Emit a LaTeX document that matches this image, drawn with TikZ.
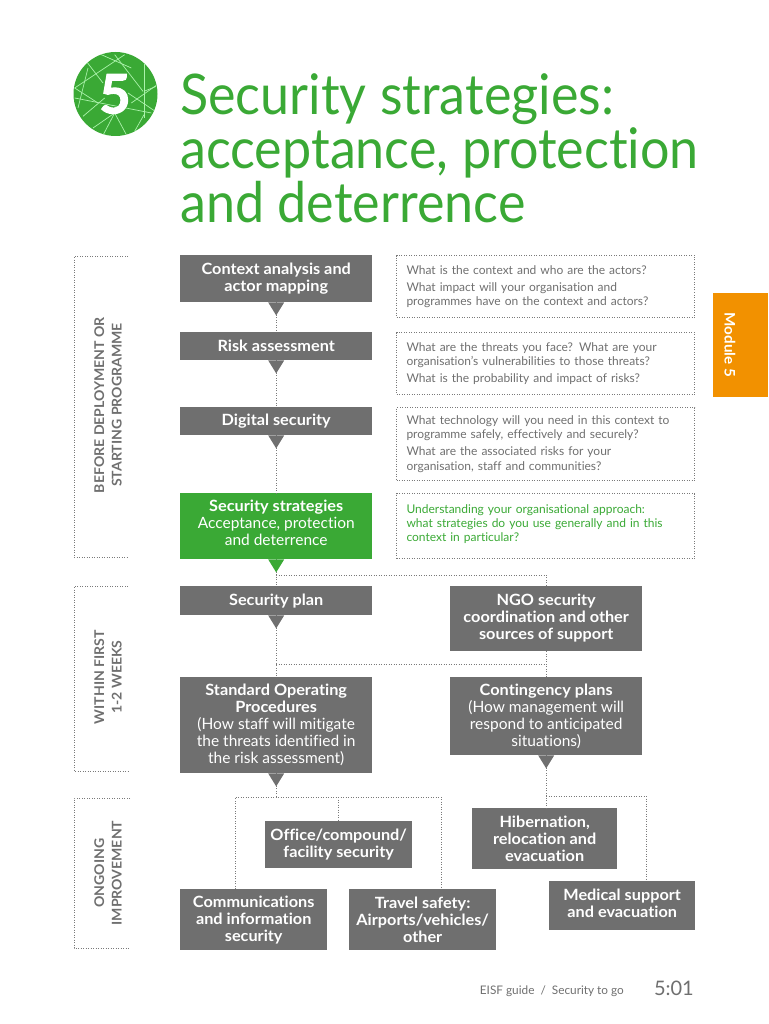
\documentclass[tikz,border=0pt]{standalone}
\usepackage{fontspec}
\setmainfont[Ligatures=NoCommon, BoldFeatures={FakeStretch=1.05}]{Lato}
\newfontfamily\titlefont[Ligatures=NoCommon, FakeStretch=0.93]{Lato}
\newfontfamily\badgefont[BoldFont=Lato Bold, BoldFeatures={FakeBold=2}]{Lato}
\usepackage{xcolor}
\usetikzlibrary{calc}
\definecolor{boxgrey}{HTML}{6F6F6F}
\definecolor{eisfgreen}{HTML}{3AA935}
\definecolor{taborange}{HTML}{F29100}
\definecolor{linegrey}{HTML}{7A7A7A}
\begin{document}
\begin{tikzpicture}[x=1pt, y=-1pt,
    dots/.style={line width=1pt, dash pattern=on 1pt off 1.5pt},
    stepbox/.style={anchor=north west, fill=boxgrey, text=white, align=center, inner sep=0pt, font=\fontsize{15.5}{17}\selectfont},
    querybox/.style={anchor=north west, draw=linegrey, dots, text=boxgrey, align=left, inner xsep=10pt, inner ysep=0pt, text width=278pt, font=\fontsize{12}{14.2}\selectfont},
    sidelabel/.style={rotate=90, text=boxgrey, align=center, font=\fontsize{13.4}{17.5}\selectfont\bfseries}]
    \useasboundingbox (0,0) rectangle (768,1024);

    % badge
    \fill[eisfgreen] (115.5,94) circle (42);
    \begin{scope}[shift={(68,48)}, x=0.3333pt, y=-0.3333pt]
        \clip (142.5,138) circle (126);
        \foreach \xa/\ya/\xb/\yb in {170/20/20/120, 55/40/105/105, 100/20/190/60, 228/40/228/210, 228/130/265/115, 20/150/250/195, 45/205/110/150, 140/195/175/260, 140/195/105/262, 60/60/30/180, 180/135/262/190, 190/165/265/112, 140/20/225/130, 75/240/140/195, 200/250/228/200, 20/120/90/165} {
            \draw[green!25!white!85!eisfgreen, line width=0.7pt] (\xa,\ya) -- (\xb,\yb);
        }
    \end{scope}
    \node[text=white, font=\fontsize{54}{54}\selectfont\badgefont\bfseries, inner sep=0pt] (badge) at (115,94) {5};

    \node[anchor=north west, text=eisfgreen, align=left, inner sep=0pt, font=\fontsize{56}{54}\selectfont\titlefont] (title) at (180,73) {Security strategies:\\acceptance, protection\\and deterrence};

    % left column
    \node[stepbox, minimum width=192pt, minimum height=47pt] (context) at (180,255) {\textbf{Context analysis and}\\\textbf{actor mapping}};
    \node[stepbox, minimum width=192pt, minimum height=28pt] (risk) at (180,332) {\textbf{Risk assessment}};
    \node[stepbox, minimum width=192pt, minimum height=28pt] (digital) at (180,407) {\textbf{Digital security}};
    \node[stepbox, fill=eisfgreen, minimum width=192pt, minimum height=66pt] (strategies) at (180,493) {\textbf{Security strategies}\\Acceptance, protection\\and deterrence\\[-11pt]\mbox{}};
    \node[stepbox, minimum width=192pt, minimum height=29pt] (plan) at (180,586) {\textbf{Security plan}};
    \node[stepbox, minimum width=192pt, minimum height=96pt] (sop) at (180,677) {\textbf{Standard Operating}\\\textbf{Procedures}\\(How staff will mitigate\\the threats identified in\\the risk assessment)};

    % right column
    \node[stepbox, minimum width=192pt, minimum height=65pt] (ngo) at (450,586) {\textbf{NGO security}\\\textbf{coordination and other}\\\textbf{sources of support}\\[-13pt]\mbox{}};
    \node[stepbox, minimum width=192pt, minimum height=78pt] (contingency) at (450,677) {\textbf{Contingency plans}\\(How management will\\respond to anticipated\\situations)};

    % bottom row
    \node[stepbox, minimum width=147pt, minimum height=47pt] (office) at (265,821) {\textbf{Office/compound/}\\\textbf{facility security}};
    \node[stepbox, minimum width=147pt, minimum height=61pt] (comms) at (180,889) {\textbf{Communications}\\\textbf{and information}\\\textbf{security}};
    \node[stepbox, minimum width=147pt, minimum height=61pt] (travel) at (349,889) {\textbf{Travel safety:}\\\textbf{Airports/vehicles/}\\\textbf{other}};
    \node[stepbox, minimum width=145pt, minimum height=61pt] (hibernation) at (472,808) {\textbf{Hibernation,}\\\textbf{relocation and}\\\textbf{evacuation}};
    \node[stepbox, minimum width=146pt, minimum height=49pt] (medical) at (549,881) {\textbf{Medical support}\\\textbf{and evacuation}\\[-13pt]\mbox{}};

    % questions
    \node[querybox, minimum height=62pt] (qcontext) at (396,255) {What is the context and who are the actors?\\[3pt]What impact will your organisation and\\programmes have on the context and actors?};
    \node[querybox, minimum height=62pt] (qrisk) at (396,332) {What are the threats you face? What are your\\organisation's vulnerabilities to those threats?\\[3pt]What is the probability and impact of risks?};
    \node[querybox, minimum height=73pt] (qdigital) at (396,407) {What technology will you need in this context to\\programme safely, effectively and securely?\\[3pt]What are the associated risks for your\\organisation, staff and communities?};
    \node[querybox, text=eisfgreen, minimum height=65pt] (qstrategies) at (396,493) {Understanding your organisational approach:\\what strategies do you use generally and in this\\context in particular?\\[-8pt]\mbox{}};

    % junctions
    \coordinate (jplan) at (276,575);
    \coordinate (jsop) at (276,664);
    \coordinate (jleft) at (235,797);
    \coordinate (jmid) at (338,797);
    \coordinate (jright) at (441,797);
    \coordinate (jmed) at (546,796);
    \coordinate (jmedr) at (646,796);

    \draw[linegrey, dots] (context.south) -- (risk.north);
    \draw[linegrey, dots] (risk.south) -- (digital.north);
    \draw[linegrey, dots] (digital.south) -- (strategies.north);
    \draw[linegrey, dots] (strategies.south) -- (plan.north);
    \draw[linegrey, dots] (jplan) -| (ngo.north);
    \draw[linegrey, dots] (plan.south) -- (sop.north);
    \draw[linegrey, dots] (ngo.south) -- (contingency.north);
    \draw[linegrey, dots] (jsop) -- (jsop -| ngo.north);
    \draw[linegrey, dots] (sop.south) -- (sop.south |- jleft);
    \draw[linegrey, dots] (jleft |- comms.north) -- (jleft) -- (jright) -- (jright |- travel.north);
    \draw[linegrey, dots] (jmid) -- (jmid |- office.north);
    \draw[linegrey, dots] (contingency.south) -- (contingency.south |- hibernation.north);
    \draw[linegrey, dots] (jmed) -- (jmedr) -- (jmedr |- medical.north);

    % pointers
    \foreach \stepname/\col in {context/boxgrey, risk/boxgrey, digital/boxgrey, strategies/eisfgreen, plan/boxgrey, sop/boxgrey, contingency/boxgrey} {
        \fill[\col] ($(\stepname.south)+(-8,0)$) -- ($(\stepname.south)+(8,0)$) -- ($(\stepname.south)+(0,13)$) -- cycle;
    }

    % phases
    \foreach \xr/\ytop/\ybot in {128/256/557, 128/586/771, 130/798/948} {
        \draw[linegrey, dots] (\xr,\ytop) -- (74,\ytop) -- (74,\ybot) -- (\xr,\ybot);
    }
    \node[sidelabel] (phasea) at (108,405) {BEFORE DEPLOYMENT OR\\STARTING PROGRAMME};
    \node[sidelabel] (phaseb) at (108,677) {WITHIN FIRST\\1-2 WEEKS};
    \node[sidelabel] (phasec) at (108,873) {ONGOING\\IMPROVEMENT};

    % page furniture
    \fill[taborange] (713,293) rectangle (768,397);
    \node[rotate=-90, text=white, font=\fontsize{14.5}{15}\selectfont\bfseries] (module) at (730,345) {Module 5};
    \node[anchor=east, text=boxgrey, inner sep=0pt, font=\fontsize{11.8}{14}\selectfont] (footer) at (624,991) {EISF guide~~/~~Security to go};
    \node[anchor=east, text=boxgrey, font=\fontsize{20}{24}\selectfont, inner sep=0pt] (folio) at (694,988) {5:01};
\end{tikzpicture}
\end{document}
